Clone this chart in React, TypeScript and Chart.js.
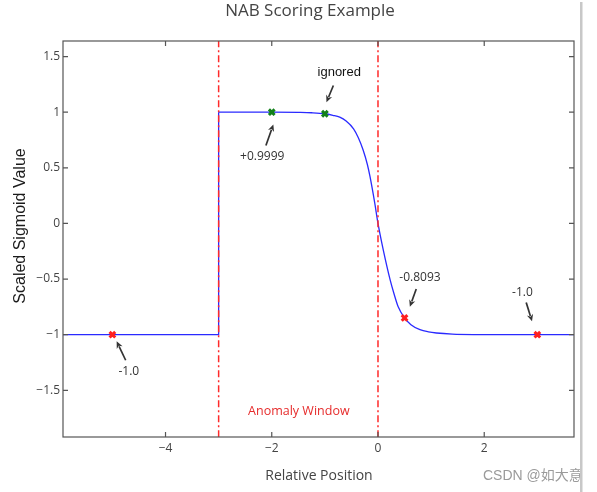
import React, { useEffect, useRef } from "react";
import { Chart, registerables } from "chart.js";

Chart.register(...registerables);

// ---- data ----
const stepX = [-6.5, -3, -3];
const stepY = [-1, -1, 1];

const curveX = [-3, -2.5, -2, -1.5, -1.25, -1, -0.85, -0.72, -0.6, -0.46, -0.37, -0.28, -0.2, -0.15, -0.06, 0, 0.1, 0.23, 0.3, 0.38, 0.5, 0.62, 0.79, 0.95, 1.1, 1.4, 1.8, 2.5, 3.2, 4];
const curveY = [1, 1, 0.9999, 0.998, 0.995, 0.986, 0.972, 0.955, 0.92, 0.85, 0.77, 0.66, 0.53, 0.42, 0.18, 0.0, -0.24, -0.51, -0.63, -0.75, -0.85, -0.91, -0.955, -0.975, -0.985, -0.995, -0.999, -1, -1, -1];

const redX = [-5, 0.5, 3];
const redY = [-1, -0.85, -1];
const greenX = [-2, -1];
const greenY = [1, 0.986];

const windowEdges = [-3, 0];

const xTicks = [-4, -2, 0, 2];
const yTicks = [-1.5, -1, -0.5, 0, 0.5, 1, 1.5];

// annotation labels: text, text position, arrow tail, arrow tip (data coords)
const annLabels = ["+0.9999", "ignored", "-1.0", "-0.8093", "-1.0"];
const annTextX = [-2.18, -0.73, -4.69, 0.79, 2.72];
const annTextY = [0.6, 1.355, -1.33, -0.49, -0.62];
const annTailX = [-2.11, -0.84, -4.75, 0.72, 2.79];
const annTailY = [0.7, 1.24, -1.23, -0.59, -0.71];
const annTipX = [-1.97, -0.97, -4.92, 0.6, 2.9];
const annTipY = [0.89, 1.09, -1.06, -0.75, -0.88];

const toPts = (xs: number[], ys: number[]) => xs.map((x, i) => ({ x, y: ys[i] }));
const fmt = (v: number) => String(v).replace("-", "\u2212");

const decorPlugin = {
  id: "decor",
  afterDraw(chart: any) {
    const ctx = chart.ctx;
    const xs = chart.scales.x;
    const ys = chart.scales.y;
    const { left, right, top, bottom } = chart.chartArea;
    ctx.save();
    // frame
    ctx.strokeStyle = "#555";
    ctx.lineWidth = 1.2;
    ctx.strokeRect(left, top, right - left, bottom - top);
    // inward ticks
    ctx.beginPath();
    xTicks.forEach((v) => {
      const px = xs.getPixelForValue(v);
      ctx.moveTo(px, bottom);
      ctx.lineTo(px, bottom - 5);
      ctx.moveTo(px, top);
      ctx.lineTo(px, top + 5);
    });
    yTicks.forEach((v) => {
      const py = ys.getPixelForValue(v);
      ctx.moveTo(left, py);
      ctx.lineTo(left + 5, py);
      ctx.moveTo(right, py);
      ctx.lineTo(right - 5, py);
    });
    ctx.stroke();

    // annotations
    annLabels.forEach((t, i) => {
      const tx = xs.getPixelForValue(annTextX[i]);
      const ty = ys.getPixelForValue(annTextY[i]);
      ctx.fillStyle = t === "ignored" ? "#111" : "#333";
      ctx.font = t === "ignored" ? "13px 'Liberation Sans', Arial, sans-serif" : "12px 'Open Sans', sans-serif";
      ctx.textAlign = "center";
      ctx.textBaseline = "middle";
      ctx.fillText(t, tx, ty);
      const ax = xs.getPixelForValue(annTailX[i]);
      const ay = ys.getPixelForValue(annTailY[i]);
      const bx = xs.getPixelForValue(annTipX[i]);
      const by = ys.getPixelForValue(annTipY[i]);
      const ang = Math.atan2(by - ay, bx - ax);
      const hl = 7;
      const hw = 3.2;
      const bxs = bx - Math.cos(ang) * hl * 0.8;
      const bys = by - Math.sin(ang) * hl * 0.8;
      ctx.strokeStyle = "#333";
      ctx.lineWidth = 1.7;
      ctx.beginPath();
      ctx.moveTo(ax, ay);
      ctx.lineTo(bxs, bys);
      ctx.stroke();
      ctx.fillStyle = "#333";
      ctx.beginPath();
      ctx.moveTo(bx, by);
      ctx.lineTo(bx - Math.cos(ang) * hl - Math.sin(ang) * hw, by - Math.sin(ang) * hl + Math.cos(ang) * hw);
      ctx.lineTo(bx - Math.cos(ang) * hl * 0.7, by - Math.sin(ang) * hl * 0.7);
      ctx.lineTo(bx - Math.cos(ang) * hl + Math.sin(ang) * hw, by - Math.sin(ang) * hl - Math.cos(ang) * hw);
      ctx.closePath();
      ctx.fill();
    });

    // anomaly window label
    ctx.fillStyle = "#e62b2b";
    ctx.font = "12.5px 'Open Sans', sans-serif";
    ctx.textAlign = "center";
    ctx.textBaseline = "middle";
    ctx.fillText("Anomaly Window", xs.getPixelForValue(-1.49), ys.getPixelForValue(-1.69));

    // titles
    ctx.fillStyle = "#444";
    ctx.font = "17px 'Open Sans', sans-serif";
    ctx.textBaseline = "middle";
    ctx.fillText("NAB Scoring Example", 310, 11);
    ctx.font = "14px 'Open Sans', sans-serif";
    ctx.fillText("Relative Position", 319, 476);
    ctx.save();
    ctx.translate(21, 226);
    ctx.rotate(-Math.PI / 2);
    ctx.fillStyle = "#1a1a1a";
    ctx.font = "16px 'Liberation Sans', Arial, sans-serif";
    ctx.fillText("Scaled Sigmoid Value", 0, 0);
    ctx.restore();

    // watermark
    ctx.fillStyle = "#9a9a9a";
    ctx.font = "14px 'Liberation Sans', 'Noto Sans CJK SC', sans-serif";
    ctx.textAlign = "left";
    ctx.fillText("CSDN @如大意", 483, 476);
    // right border artifact
    ctx.fillStyle = "#c8c8c8";
    ctx.fillRect(580, 2, 2.5, 490);
    ctx.restore();
  },
};

export default function App() {
  const ref = useRef<HTMLCanvasElement>(null);
  useEffect(() => {
    if (!ref.current) return;
    const markerCommon = {
      showLine: false,
      pointStyle: "crossRot" as const,
      pointRadius: 4,
      pointBorderWidth: 3,
    };
    const chart = new Chart(ref.current, {
      type: "scatter",
      data: {
        datasets: [
          { ...markerCommon, data: toPts(redX, redY), borderColor: "#ff2020", backgroundColor: "#ff2020" },
          { ...markerCommon, data: toPts(greenX, greenY), borderColor: "#12801a", backgroundColor: "#12801a" },
          ...windowEdges.map((e) => ({
            data: [{ x: e, y: -3 }, { x: e, y: 3 }],
            showLine: true,
            borderColor: "#ff2a2a",
            borderWidth: 1.5,
            borderDash: [7, 3, 2, 3],
            pointRadius: 0,
          })),
          {
            data: toPts(stepX, stepY),
            showLine: true,
            borderColor: "#2a2aff",
            borderWidth: 1.3,
            pointRadius: 0,
            tension: 0,
          },
          {
            data: toPts(curveX, curveY),
            showLine: true,
            borderColor: "#2a2aff",
            borderWidth: 1.3,
            pointRadius: 0,
            cubicInterpolationMode: "monotone" as const,
          },
        ] as any,
      },
      options: {
        animation: false,
        responsive: false,
        devicePixelRatio: 1,
        layout: { padding: { top: 41, right: 23, left: 0, bottom: 0 } },
        plugins: { legend: { display: false }, tooltip: { enabled: false }, title: { display: false } },
        scales: {
          x: {
            type: "linear",
            min: -5.93,
            max: 3.69,
            grid: { display: false, drawTicks: false },
            border: { display: false },
            afterBuildTicks: (s: any) => {
              s.ticks = xTicks.map((v) => ({ value: v }));
            },
            afterFit: (s: any) => {
              s.height = 55;
            },
            ticks: {
              padding: 4,
              color: "#444",
              font: { family: "'Open Sans', sans-serif", size: 12 },
              callback: (v: any) => fmt(Number(v)),
              maxRotation: 0,
            },
          },
          y: {
            type: "linear",
            min: -1.92,
            max: 1.64,
            grid: { display: false, drawTicks: false },
            border: { display: false },
            afterBuildTicks: (s: any) => {
              s.ticks = yTicks.map((v) => ({ value: v }));
            },
            afterFit: (s: any) => {
              s.width = 63;
            },
            ticks: {
              padding: 3,
              color: "#444",
              font: { family: "'Open Sans', sans-serif", size: 12 },
              callback: (v: any) => fmt(Number(v)),
            },
          },
        },
      },
      plugins: [decorPlugin],
    });
    return () => chart.destroy();
  }, []);
  return (
    <div style={{ position: "absolute", left: 0, top: 0, width: 597, height: 492, background: "#fff" }}>
      <canvas ref={ref} width={597} height={492} style={{ width: 597, height: 492, display: "block" }} />
    </div>
  );
}
